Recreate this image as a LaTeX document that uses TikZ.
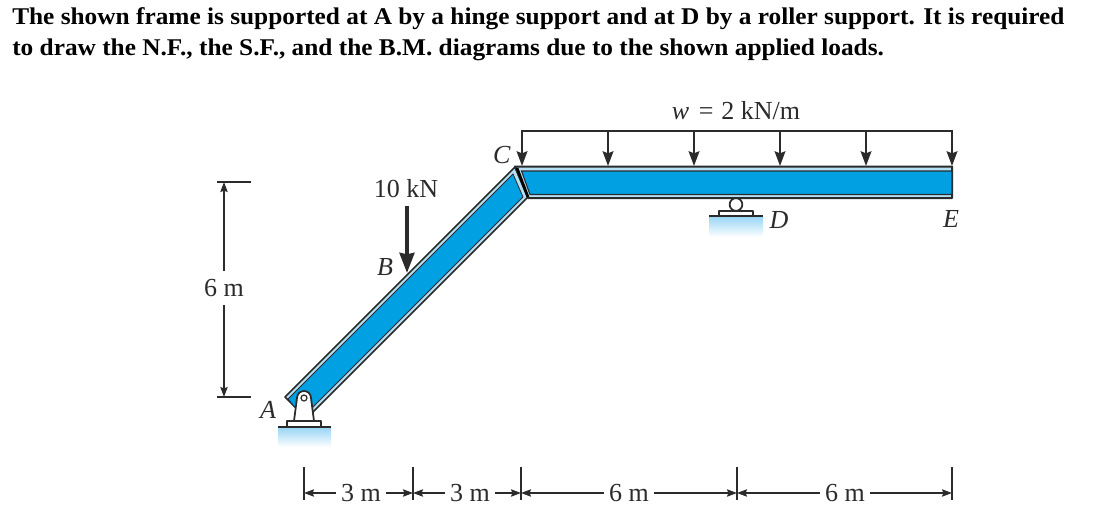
\documentclass[tikz,border=0pt]{standalone}
\usepackage{fontspec}
\setmainfont{Liberation Serif}
\newfontfamily\headfont[FakeStretch=1.055]{Liberation Serif}
\usetikzlibrary{arrows.meta}
\definecolor{barblue}{HTML}{00A0E3}
\definecolor{barlight}{HTML}{B5DFF2}
\definecolor{barline}{HTML}{2B2B2B}
\definecolor{groundblue}{HTML}{96D4F5}

\begin{document}
\begin{tikzpicture}[
    x=0.75pt,
    y=-0.75pt,
    load/.style={
      -{Stealth[length=11pt,width=8pt,inset=1.5pt]},
      line width=1.7pt,
      draw=barline
    },
    loadline/.style={
      line width=1.7pt,
      draw=barline
    },
    pointload/.style={
      -{Stealth[length=15pt,width=11pt,inset=1pt]},
      line width=3pt,
      draw=barline
    },
    dimarrow/.style={
      -{Stealth[length=7.5pt,width=5.5pt,inset=1pt]},
      line width=0.9pt,
      draw=barline
    },
    dimtick/.style={
      line width=0.9pt,
      draw=barline
    },
    outerbar/.style={
      fill=barlight,
      draw=barline,
      line width=1.5pt,
      line join=round
    },
    innerbar/.style={
      fill=barblue,
      draw=barline,
      line width=0.8pt
    },
    support/.style={
      fill=white,
      draw=barline,
      line width=1.3pt,
      line join=round
    },
    ground/.style={
      top color=groundblue,
      bottom color=white,
      draw=none
    },
    lab/.style={
      font=\fontsize{19.5pt}{22pt}\selectfont,
      text=barline,
      inner sep=0pt
    },
    dimlab/.style={
      font=\fontsize{19.5pt}{22pt}\selectfont,
      text=barline,
      inner xsep=4pt,
      inner ysep=2pt
    },
    headline/.style={
      font=\fontsize{18pt}{22pt}\headfont\bfseries,
      anchor=base west,
      inner sep=0pt
    }
  ]
    \useasboundingbox (0,0) rectangle (1118,525);

    \node[headline] (line1) at (12,24) {The shown frame is supported at A by a hinge support and at D by a roller support. It is required};
    \node[headline] (line2) at (12,55) {to draw the N.F., the S.F., and the B.M. diagrams due to the shown applied loads.};

    % frame
    \path[outerbar,line width=1.2pt] (285,397) -- (515,167) -- (528,197) -- (306.5,418.5) -- cycle;
    \path[innerbar,line width=0.6pt] (288,399) -- (513,174) -- (523,197) -- (303,417) -- cycle;
    \path[outerbar] (515,166.5) -- (952,166.5) -- (952,198) -- (528,198) -- cycle;
    \path[innerbar] (521.5,171) -- (952,171) -- (952,194.5) -- (530,194.5) -- cycle;
    \draw[line width=2pt,draw=black] (517,168) -- (528,197);

    % supports
    \path[ground] (278,427) rectangle (331,447);
    \path[support] (287,427) rectangle (321,421);
    \path[support] (294,421) -- (297,398) arc[start angle=180,end angle=360,radius=7] -- (314,421) -- cycle;
    \node[circle,draw=barline,fill=white,line width=0.9pt,minimum size=4.5pt,inner sep=0pt] (hinge) at (304,398) {};
    \draw[dimtick,line width=1.4pt] (278,427) -- (331,427);

    \path[ground] (709,216) rectangle (763,237);
    \path[support] (719,216) rectangle (753,211);
    \node[circle,draw=barline,fill=white,line width=1.3pt,minimum size=9.5pt,inner sep=0pt] (roller) at (736,204.5) {};
    \draw[dimtick,line width=1.4pt] (709,216) -- (763,216);

    % distributed load
    \coordinate (w1) at (522,131);
    \coordinate (w6) at (952,131);
    \draw[loadline] (w1) -- (w6);
    \foreach \x/\n in {522/1,608/2,694/3,780/4,866/5,952/6} {
      \coordinate (top\n) at (\x,130);
      \coordinate (tip\n) at (\x,166);
      \draw[load] (top\n) -- (tip\n);
    }

    % point load
    \coordinate (ptop) at (407,206);
    \coordinate (ptip) at (407,273);
    \draw[pointload] (ptop) -- (ptip);

    \node[lab] (wlab) at (736,111) {\textit{w}\hspace{0.12em} = \hspace{0.05em}2 kN/m};
    \node[lab] (pload) at (406,189) {10 kN};
    \foreach \x/\y/\l in {268/410/A,385/267/B,502/155/C,779/220/D,951/219/E}
      \node[lab] (\l) at (\x,\y) {\textit{\l}};

    % height
    \coordinate (h1a) at (217,182);
    \coordinate (h1b) at (251,182);
    \coordinate (h2a) at (217,397);
    \coordinate (h2b) at (251,397);
    \coordinate (h1) at (224,182);
    \coordinate (h2) at (224,397);
    \draw[dimtick] (h1a) -- (h1b);
    \draw[dimtick] (h2a) -- (h2b);
    \node[dimlab,inner ysep=6pt] (hlab) at (224,288) {6 m};
    \draw[dimarrow] (hlab) -- (h1);
    \draw[dimarrow] (hlab) -- (h2);

    % spans
    \foreach \x/\n in {304/1,413/2,521/3,737/4,952/5} {
      \coordinate (s\n a) at (\x,467);
      \coordinate (s\n b) at (\x,500);
      \coordinate (s\n) at (\x,493);
      \draw[dimtick] (s\n a) -- (s\n b);
    }
    \foreach \x/\a/\b/\l in {361/1/2/3,470/2/3/3,629/3/4/6,845/4/5/6} {
      \node[dimlab] (d\a) at (\x,493) {\l\ m};
      \draw[dimarrow] (d\a) -- (s\a);
      \draw[dimarrow] (d\a) -- (s\b);
    }
  \end{tikzpicture}
\end{document}
